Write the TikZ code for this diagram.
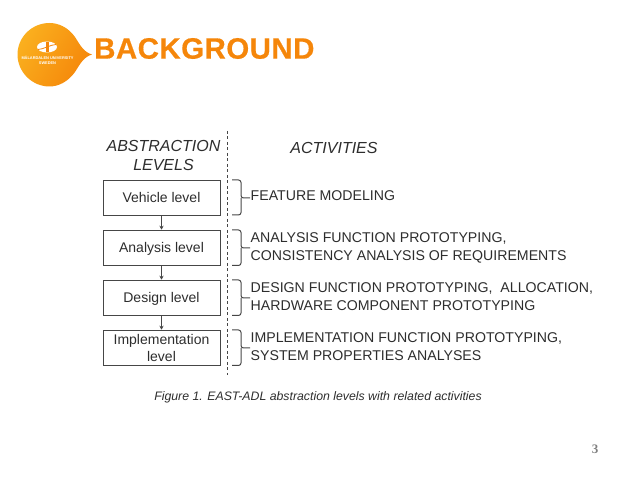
\documentclass[tikz,border=0pt]{standalone}
\usepackage{fontspec}
\setmainfont{Liberation Sans}
\newfontfamily\serifnum{Liberation Serif}
\newfontfamily\titlefont[FakeBold=0.5,LetterSpace=1.5]{Liberation Sans Bold}
\usetikzlibrary{arrows.meta}
\definecolor{mduorange}{RGB}{245,134,10}
\definecolor{mduyellow}{RGB}{250,175,30}
\definecolor{linegray}{RGB}{70,70,70}
\definecolor{inkgray}{RGB}{45,45,45}
\newcommand{\onelinestrut}{\rule[-4pt]{0pt}{18pt}}
\tikzset{
  levelbox/.style={draw=linegray,line width=1pt,minimum width=117pt,minimum height=35.5pt,inner sep=0pt,align=center,font=\fontsize{14}{17}\selectfont,text=inkgray},
  act/.style={anchor=west,inner sep=0pt,align=left,font=\fontsize{14.15}{18}\selectfont,text=inkgray},
  head/.style={inner sep=0pt,align=center,font=\fontsize{16}{19}\selectfont\itshape,text=inkgray},
  flow/.style={draw=linegray,line width=1pt,-{Stealth[length=4pt,width=4pt]}},
  bracket/.style={draw=linegray,line width=1pt,rounded corners=2.5pt},
  sep/.style={draw=linegray,line width=1pt,dash pattern=on 3pt off 2.5pt}
}
\begin{document}
\begin{tikzpicture}[x=1pt,y=-1pt]
\useasboundingbox (0,0) rectangle (638,478);
% logo
\shade[left color=mduyellow,right color=mduorange,shading angle=60]
  (92,54.5) .. controls (83,52) and (79,43) .. (75,37)
  .. controls (68,27) and (58,23) .. (49.5,23)
  .. controls (32,23) and (17.5,37) .. (17.5,54.5)
  .. controls (17.5,72) and (32,86.5) .. (49.5,86.5)
  .. controls (58,86.5) and (68,82) .. (75,72)
  .. controls (79,66) and (83,57) .. (92,54.5) -- cycle;
\fill[white] (47,47) ellipse (10pt and 5.5pt);
\fill[mduorange] (45.5,42) rectangle (48.5,52);
\draw[mduorange,line width=0.8pt] (38,49.5) .. controls (43,49.5) and (51,44.5) .. (56,44.5);
\node (logoa) at (47.5,58) [inner sep=0pt,text=white,font=\bfseries\fontsize{3.9}{5}\selectfont] {MÄLARDALEN UNIVERSITY};
\node (logob) at (47.5,63) [inner sep=0pt,text=white,font=\bfseries\fontsize{3.9}{5}\selectfont] {SWEDEN};
\node (title) at (94,48.5) [anchor=west,inner sep=0pt,text=mduorange,font=\titlefont\fontsize{29.5}{30}\selectfont] {BACKGROUND};
% headers
\node[head] (habs) at (163.5,155) {ABSTRACTION\\LEVELS};
\node[head] (hact) at (334,147.5) {ACTIVITIES};
% separator
\coordinate (septop) at (227.5,131);
\coordinate (sepbot) at (227.5,375);
\draw[sep] (septop) -- (sepbot);
% boxes
\node[levelbox] (vehicle) at (161.5,198) {\onelinestrut Vehicle level};
\node[levelbox] (analysis) at (161.5,248) {\onelinestrut Analysis level};
\node[levelbox] (design) at (161.5,298) {\onelinestrut Design level};
\node[levelbox] (impl) at (161.5,348) {Implementation\\level};
\draw[flow] (vehicle) -- (analysis);
\draw[flow] (analysis) -- (design);
\draw[flow] (design) -- (impl);
% activities
\node[act] (a1) at (250.5,196) {FEATURE MODELING};
\node[act] (a2) at (250.5,248) {ANALYSIS FUNCTION PROTOTYPING,\\CONSISTENCY ANALYSIS OF REQUIREMENTS};
\node[act] (a3) at (250.5,297) {DESIGN FUNCTION PROTOTYPING,~ ALLOCATION,\\HARDWARE COMPONENT PROTOTYPING};
\node[act] (a4) at (250.5,346.5) {IMPLEMENTATION FUNCTION PROTOTYPING,\\SYSTEM PROPERTIES ANALYSES};
% brackets
\foreach \n/\t/\m/\b in {a1/180/198/215,a2/230/248/265.5,a3/280/298/315.5,a4/330/348/365.5}{
  \coordinate (\n t) at (232,\t);
  \coordinate (\n b) at (232,\b);
  \coordinate (\n m) at (250,\m);
  \draw[bracket] (\n t) -- (241,\t) -- (241,\m) -- (\n m);
  \draw[bracket] (\n b) -- (241,\b) -- (241,\m);
}
\node (cap) at (318,397) [inner sep=0pt,text=inkgray,font=\itshape\fontsize{12.3}{14}\selectfont] {Figure 1. EAST-ADL abstraction levels with related activities};
\node (pg) at (595,449) [inner sep=0pt,text=gray,font=\serifnum\bfseries\fontsize{13}{14}\selectfont] {3};
\end{tikzpicture}
\end{document}
